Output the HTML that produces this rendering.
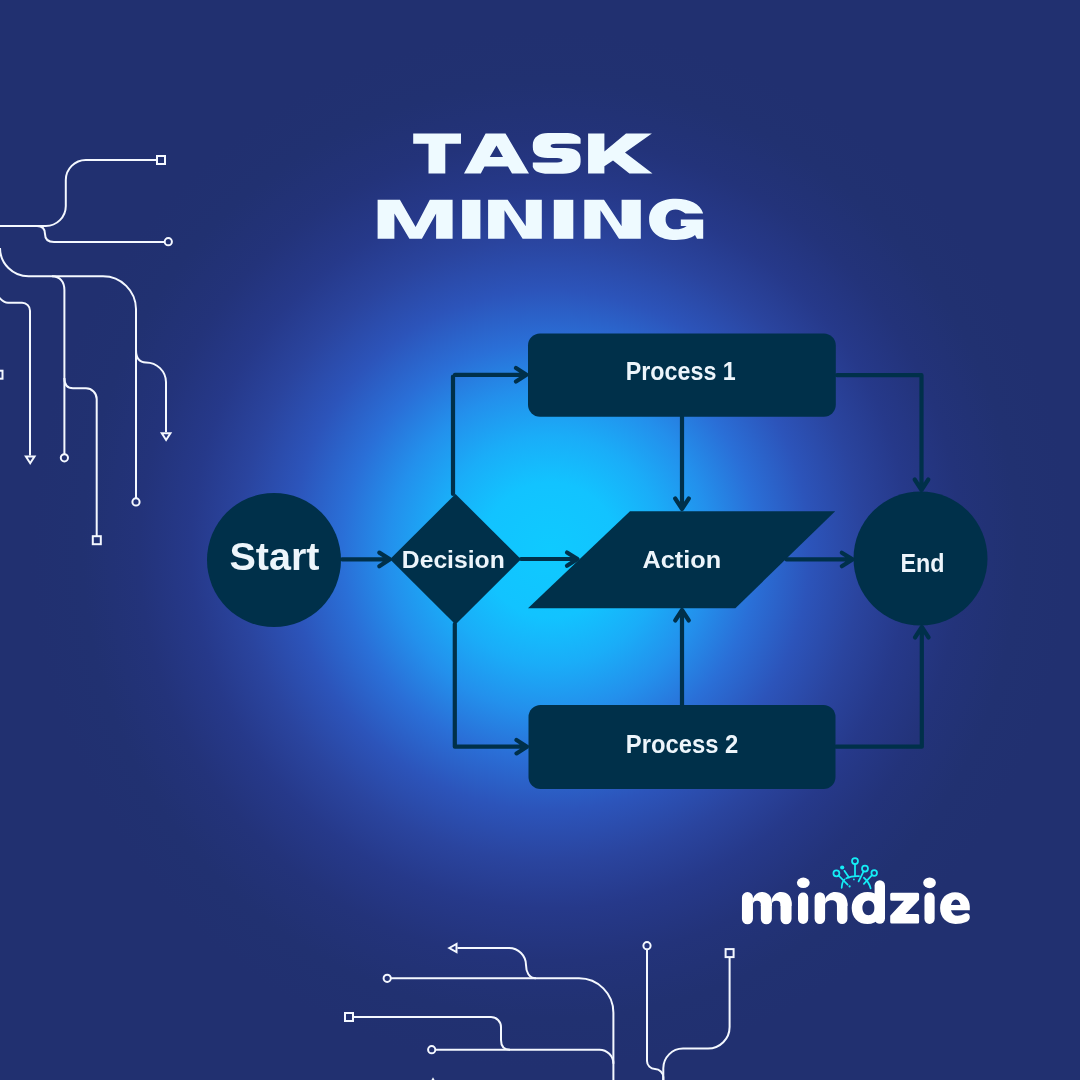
<!DOCTYPE html>
<html><head><meta charset="utf-8">
<style>
html,body{margin:0;padding:0;width:1080px;height:1080px;overflow:hidden;background:#213070;}
svg{display:block;position:absolute;left:0;top:0}
.lbl{font-family:"Liberation Sans",sans-serif;font-weight:700;fill:#eef6fc;}
</style></head>
<body>
<svg width="1080" height="1080" viewBox="0 0 1080 1080">
<defs>
<radialGradient id="glow" cx="550" cy="550" r="520" gradientUnits="userSpaceOnUse">
<stop offset="0" stop-color="#0fcaff"/>
<stop offset="0.13" stop-color="#12c3ff"/>
<stop offset="0.22" stop-color="#1aadf8"/>
<stop offset="0.31" stop-color="#2390ec"/>
<stop offset="0.40" stop-color="#2a6fd7"/>
<stop offset="0.50" stop-color="#2c54ba"/>
<stop offset="0.60" stop-color="#2a449e"/>
<stop offset="0.69" stop-color="#26398a"/>
<stop offset="0.79" stop-color="#23337a"/>
<stop offset="0.90" stop-color="#213171"/>
<stop offset="1" stop-color="#213070"/>
</radialGradient>
</defs>
<rect width="1080" height="1080" fill="url(#glow)"/>

<!-- CIRCUITS -->
<g fill="none" stroke="#f4f8ff" stroke-width="2">
<path d="M-2,226 H45.8 A20,20 0 0 0 65.8,206 V180 A20,20 0 0 1 85.8,160 H157"/>
<rect x="157" y="156" width="8" height="8"/>
<path d="M37,226 C42,226 45,229 45,234 C45,239 48,242 54,242 H164.5"/>
<circle cx="168.3" cy="241.7" r="3.6"/>
<path d="M0,248 A28.5,28.5 0 0 0 28.5,276.3 H103 A33,33 0 0 1 136,309 V498"/>
<circle cx="136" cy="501.9" r="3.6"/>
<path d="M136,350 C136,358 139,362.4 146,362.4 A20,20 0 0 1 166,382 V432"/>
<path d="M161.8,433.3 H170.4 L166.1,440 Z"/>
<path d="M52,276.3 C60,276.3 64.4,282 64.4,290 V454"/>
<circle cx="64.4" cy="457.8" r="3.6"/>
<path d="M64.4,378 C64.4,384 67,388.3 73,388.3 H86 A10.7,10.7 0 0 1 96.7,399 V536"/>
<rect x="92.8" y="536.2" width="8" height="8"/>
<path d="M-2,296 C1,300 4,302.7 8,302.7 H22 A8,8 0 0 1 30,311 V455.6"/>
<path d="M25.9,456.5 H34.5 L30.2,463.2 Z"/>
<rect x="-5.5" y="370.7" width="8" height="8"/>
<path d="M457.5,948 H509 A17,17 0 0 1 526,965 C526,972 529,978.3 536,978.3"/>
<path d="M449.3,948 L456.5,944 V952 Z"/>
<circle cx="387.2" cy="978.3" r="3.6"/>
<path d="M391,978.3 H579 A34.4,34.4 0 0 1 613.4,1012.7 V1082"/>
<rect x="345" y="1013" width="8" height="8"/>
<path d="M353,1017 H491 A10,10 0 0 1 501,1027 V1040 C501,1046 504,1049.7 510,1049.7"/>
<circle cx="431.7" cy="1049.7" r="3.6"/>
<path d="M435.5,1049.7 H599.4 A14,14 0 0 1 613.4,1063.7"/>
<circle cx="647" cy="945.7" r="3.6"/>
<path d="M647,949.5 V1061 A8,8 0 0 0 655,1069 A8.3,8.3 0 0 1 663.3,1077.3 V1082"/>
<rect x="725.6" y="949.1" width="8" height="8"/>
<path d="M729.6,957 V1027 A21.6,21.6 0 0 1 708,1048.6 H683 A19.7,19.7 0 0 0 663.3,1068.3 V1082"/>
<path d="M433,1079.3 L438,1088 H428 Z"/>
</g>

<!-- TITLE -->
<g fill="#eefaff">
<path d="M413.2,133.4 H461 V143.7 H445.3 V173.4 H428.5 V143.7 H413.2 Z"/>
<path fill-rule="evenodd" d="M464,173.4 L485.6,133.4 H505.5 L529,173.4 H512 L508,166.5 H484.5 L480.8,173.4 Z M496.5,145.5 L503,156.9 H489.8 Z"/>
<path d="M548,133.1 H565 C573,133.1 578.5,135 580.6,138.75 V143.75 H556 C552.5,143.75 550.6,144.7 550.6,145.9 C550.6,147.1 552.5,148.1 556,148.1 H565 C575.5,148.1 580.6,151.5 580.6,159 V162 C580.6,169.5 573,173.8 563,173.8 H548 C540,173.8 534.5,171.5 532.8,167 V162.5 H557 C560.5,162.5 562.5,161.5 562.5,160.25 C562.5,159 560.5,158 557,158 H548 C538,158 532.8,154.5 532.8,147 V145 C532.8,137.5 539,133.1 548,133.1 Z"/>
<path d="M588.1,133.4 H604.4 V151.5 L626,133.4 H651.9 L625,152.5 L652.5,173.4 H629.4 L613,160.5 L604.4,166.3 V173.4 H588.1 Z"/>
<path d="M377.6,199.8 H399.9 L415.6,227 L429.8,199.8 H452.6 V238.8 H436.1 V213.6 L421.9,238.8 H409.4 L394.4,213.6 V238.8 H377.6 Z"/>
<rect x="462.1" y="199.8" width="18.3" height="39"/>
<path d="M488.1,199.8 H507.7 L525.8,226.2 V199.8 H541.8 V238.8 H522.6 L504.5,210.2 V238.8 H488.1 Z"/>
<rect x="553.8" y="199.8" width="19.5" height="39"/>
<path d="M584.3,199.8 H604 L621.6,226.2 V199.8 H640.8 V238.8 H619 L600.5,210.2 V238.8 H584.3 Z"/>
<path d="M703.2,213.4 H685.4 C682,210.7 678.5,209.5 675.5,209.5 C669.5,209.5 665.6,213.5 665.6,219.4 C665.6,225.5 669.5,229.3 675.5,229.3 C680,229.3 684,228.5 686.7,226 H680.8 V219.5 H703.2 V238.7 H697 L695,235.1 C691,238.5 684,240 676,240 C659,240 649.1,232 649.1,219.4 C649.1,206.8 659,198.8 676,198.8 C690,198.8 700,204 703.2,213.4 Z"/>
</g>

<!-- FLOWCHART SHAPES -->
<g fill="#00304a">
<circle cx="274" cy="560" r="67"/>
<path d="M390,559.3 L455.5,494 L521,559.3 L455.5,624.6 Z"/>
<rect x="528" y="333.6" width="307.8" height="83.2" rx="12"/>
<rect x="528.5" y="705" width="307" height="84" rx="12"/>
<path d="M630,511.2 H835.2 L735.4,608.2 H528 Z"/>
<circle cx="920.5" cy="558.5" r="67"/>
</g>
<g fill="none" stroke="#00304a" stroke-width="4.2" stroke-linecap="round" stroke-linejoin="round">
<path d="M342,559.3 H389 M379.3,552.6 L390,559.3 L379.3,566.3"/>
<path d="M453,494 V376.5 M455,374.8 H526 M516,368 L526.5,374.8 L516,381.6"/>
<path d="M521,559 H576 M567,552.5 L577.5,559 L567,565.8"/>
<path d="M682,416 V509 M675.2,498.5 L682,509 L688.8,498.5"/>
<path d="M837,375.2 H921.5 V490 M914.7,479.5 L921.5,490 L928.3,479.5"/>
<path d="M454.8,624 V746.7 H527 M516.5,740 L527,746.7 L516.5,753.4"/>
<path d="M682,705 V610 M675.2,620.5 L682,610 L688.8,620.5"/>
<path d="M836,746.7 H921.8 V627 M915,637.5 L921.8,627 L928.6,637.5"/>
<path d="M786.5,559.4 H852 M841.8,552.7 L852.5,559.4 L841.8,566.2"/>
</g>
<g class="lbl" opacity="0.999">
<text transform="translate(229.41,570.2) scale(1.006,1)" font-size="39.29">Start</text>
<text transform="translate(401.82,567.8) scale(1.021,1)" font-size="24.2">Decision</text>
<text transform="translate(625.8,379.9) scale(0.923,1)" font-size="25.22">Process 1</text>
<text transform="translate(642.49,568) scale(1.026,1)" font-size="24.64">Action</text>
<text transform="translate(625.77,753) scale(0.945,1)" font-size="25.22">Process 2</text>
<text transform="translate(900.5,571.9) scale(0.909,1)" font-size="25.65">End</text>
</g>

<!-- LOGO -->
<g fill="none" stroke="#ffffff" stroke-linecap="round">
<path stroke-width="11" d="M747.45,897.6 V918.8 M766.35,905 V918.8 M786.05,903 V918.8"/>
<path stroke-width="10.5" d="M819.85,897.4 V918.8 M842.2,904 V918.8"/>
<path stroke-width="10.2" d="M803.1,897.6 V918.8 M929.55,897.6 V918.8"/>
<path stroke-width="10.4" d="M879.8,885.4 V918.5"/>
</g>
<g fill="#ffffff">
<path d="M752.95,906 V898.5 C754.8,894.3 757.8,892.1 761.5,892.1 C767.5,892.1 771.85,896 771.85,902 V906 H760.85 V904.5 C760.85,902.2 759.6,900.7 757,900.7 C754.5,900.7 752.95,902.2 752.95,904.5 Z"/>
<path d="M771.85,906 V899 C773.8,894.5 777,892.1 781,892.1 C787.5,892.1 791.55,896.5 791.55,903 V906 H780.55 V904.5 C780.55,902.2 779.2,900.7 776.2,900.7 C773.5,900.7 771.85,902.2 771.85,904.5 Z"/>
<path d="M825.1,906 V898.7 C827.5,894.5 831,892.1 835,892.1 C842.5,892.1 847.45,896.5 847.45,903.5 V906 H836.95 V905 C836.95,902.3 835.2,900.3 831.5,900.3 C828,900.3 825.1,902.5 825.1,905.5 Z"/>
<path fill-rule="evenodd" d="M879.8,897 C876.5,893.8 872.5,892 867.5,892 C858,892 851.7,899 851.7,908 C851.7,917.2 858,924.1 867.5,924.1 C872.5,924.1 876.5,922 879.8,918.8 Z M868.5,900.4 C865,900.4 862.4,903.4 862.4,907.85 C862.4,912.3 865,915.3 868.5,915.3 C872,915.3 874.6,912.3 874.6,907.85 C874.6,903.4 872,900.4 868.5,900.4 Z"/>
<path stroke="#ffffff" stroke-width="3" stroke-linejoin="round" d="M891.7,894.2 H917.6 V899.3 L901.8,915.6 H917.6 V921.9 H891.7 V916.3 L907.5,899.3 H891.7 Z"/>
<path fill-rule="evenodd" d="M969.8,910.3 H951 C951.8,913.8 954,915.8 957.5,915.8 C960,915.8 962.5,914.8 964.5,913.8 C967.5,912.5 969.8,914 969.8,917 C969.8,919.5 968.5,921 966,922 C963,923.3 959.5,923.9 955.5,923.9 C946.5,923.9 940.1,917.5 940.1,908 C940.1,898.5 946.5,892.2 955,892.2 C963.5,892.2 969.8,898.5 969.8,906.5 Z M951,905.1 C951.7,901.5 953.5,899.4 955.8,899.4 C958.2,899.4 960,901.5 960.5,905.1 Z"/>
<ellipse cx="803.3" cy="882.85" rx="6.4" ry="5.25"/>
<ellipse cx="929.55" cy="882.8" rx="6.35" ry="5.4"/>
</g>
<g fill="none" stroke="#14eef6" stroke-width="1.75" stroke-linecap="round">
<circle cx="855" cy="861.1" r="3"/>
<path d="M855,864.1 V875.5"/>
<circle cx="836.4" cy="873.3" r="3"/>
<path d="M838.6,875.5 L847.6,884.6"/>
<circle cx="865" cy="868.6" r="3"/>
<path d="M863.6,871.4 L858.6,881.4"/>
<circle cx="874.2" cy="873" r="2.8"/>
<path d="M872,875.2 L863.9,883.9"/>
<path d="M844.4,870.8 L849,877.5"/>
<path d="M841.7,887.8 Q842,882 844.5,879.5 M846.3,878.3 Q852,875.8 859,876.2 M863.9,877.8 Q869,882 870.6,888.3"/>
</g>
<g fill="#14eef6"><circle cx="842.2" cy="867.5" r="2.1"/><circle cx="849.6" cy="886.4" r="1.1"/><circle cx="853.9" cy="879.4" r="0.9"/></g>
</svg>
</body></html>
